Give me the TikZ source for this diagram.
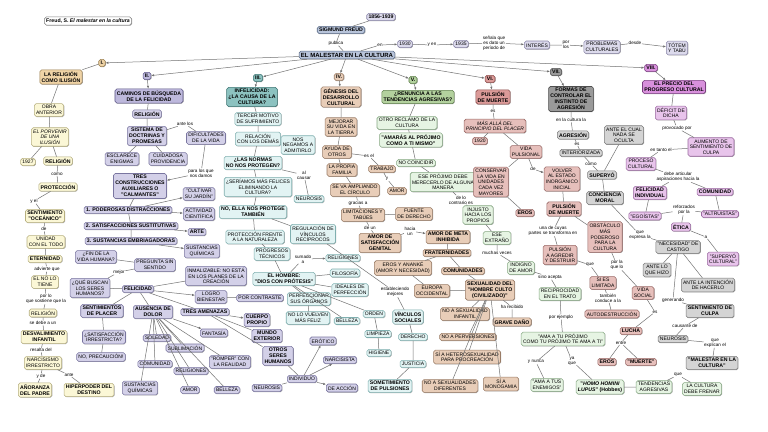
\documentclass[tikz,border=0pt]{standalone}
\usepackage{fontspec}
\setmainfont{Liberation Sans}
\usetikzlibrary{shadows,arrows.meta}
\definecolor{fBG}{HTML}{B8C4DA}\definecolor{dBG}{HTML}{5A6A85}
\definecolor{fLV}{HTML}{DCDAEC}\definecolor{dLV}{HTML}{8A86A8}
\definecolor{fTN}{HTML}{EFD3A6}\definecolor{dTN}{HTML}{9A7F50}
\definecolor{fYL}{HTML}{FBF7D6}\definecolor{dYL}{HTML}{B7B080}
\definecolor{fPU}{HTML}{BDB8DC}\definecolor{dPU}{HTML}{5E5888}
\definecolor{fPL}{HTML}{D3D0E8}\definecolor{dPL}{HTML}{7A76A0}
\definecolor{fTE}{HTML}{8CC2C0}\definecolor{dTE}{HTML}{3D7573}
\definecolor{fCY}{HTML}{E2F3F3}\definecolor{dCY}{HTML}{7FAFAF}
\definecolor{fIV}{HTML}{E8CDB8}\definecolor{dIV}{HTML}{9A7C66}
\definecolor{fGR}{HTML}{B3D19E}\definecolor{dGR}{HTML}{5F7F4C}
\definecolor{fGN}{HTML}{E6F4E3}\definecolor{dGN}{HTML}{86A883}
\definecolor{fPK}{HTML}{DB9A98}\definecolor{dPK}{HTML}{8A4B49}
\definecolor{fPP}{HTML}{E6BFBB}\definecolor{dPP}{HTML}{9A6A67}
\definecolor{fGY}{HTML}{9A9A9A}\definecolor{dGY}{HTML}{4F4F4F}
\definecolor{fGG}{HTML}{D4D4D4}\definecolor{dGG}{HTML}{7C7C7C}
\definecolor{fMG}{HTML}{D890DC}\definecolor{dMG}{HTML}{7A3F80}
\definecolor{fML}{HTML}{E8C4EB}\definecolor{dML}{HTML}{9A6AA0}
\tikzset{
 bx/.style={rounded corners=1.8pt, line width=0.55pt, inner sep=1.8pt, align=center,
   font=\fontsize{5}{5.7}\selectfont, drop shadow={shadow xshift=0.6pt,shadow yshift=-0.6pt,opacity=0.35,fill=black}},
 bf/.style={font=\fontsize{5.2}{5.9}\selectfont\bfseries},
 BG/.style={bx,fill=fBG,draw=dBG}, LV/.style={bx,fill=fLV,draw=dLV},
 TN/.style={bx,fill=fTN,draw=dTN}, YL/.style={bx,fill=fYL,draw=dYL},
 PU/.style={bx,fill=fPU,draw=dPU}, PL/.style={bx,fill=fPL,draw=dPL},
 TE/.style={bx,fill=fTE,draw=dTE}, CY/.style={bx,fill=fCY,draw=dCY},
 IV/.style={bx,fill=fIV,draw=dIV}, GR/.style={bx,fill=fGR,draw=dGR},
 GN/.style={bx,fill=fGN,draw=dGN}, PK/.style={bx,fill=fPK,draw=dPK},
 PP/.style={bx,fill=fPP,draw=dPP}, GY/.style={bx,fill=fGY,draw=dGY},
 GG/.style={bx,fill=fGG,draw=dGG}, MG/.style={bx,fill=fMG,draw=dMG},
 ML/.style={bx,fill=fML,draw=dML}, WT/.style={bx,fill=white,draw=gray},
 lb/.style={font=\fontsize{4.6}{5.1}\selectfont, inner sep=0.4pt, fill=white, align=center},
 ln/.style={draw=black!55, line width=0.5pt},
 ar/.style={ln,-{Latex[length=2.8pt,width=2.3pt]}}
}
\begin{document}
\begin{tikzpicture}[x=1pt,y=-1pt]
\useasboundingbox (0,0) rectangle (768,431);
\fill[white] (0,0) rectangle (768,431);
% ---------- top
\node[WT,bf] (ref) at (88,21) {Freud, S. \textit{El malestar en la cultura}};
\node[LV,bf] (yrs) at (381,17) {1856-1939};
\node[BG,bf] (sf) at (341,30) {SIGMUND FREUD};
\node[lb] (pub) at (336,43) {publica};
\node[BG,bf,font=\fontsize{6}{6.6}\selectfont\bfseries] (mal) at (347,55) {EL MALESTAR EN LA CULTURA};
\node[lb] (en1) at (380,45) {en};
\node[LV] (y30) at (405,44) {1930};
\node[lb] (yen) at (432,45) {y en};
\node[LV] (y35) at (461,44) {1935};
\node[lb] (sen) at (494,43) {señala que\\es dato un\\período de};
\node[LV] (int) at (537,45) {INTERÉS};
\node[lb] (por) at (566,45) {por\\los};
\node[LV] (prob) at (602,47) {PROBLEMAS\\CULTURALES};
\node[lb] (des) at (635,43) {desde};
\node[LV] (tot) at (677,48) {TÓTEM\\Y TABÚ};
\draw[ln] (sf)--(yrs); \draw[ln] (sf)--(pub)--(mal);
\draw[ar] (mal)--(en1)--(y30); \draw[ar] (y30)--(yen)--(y35);
\draw[ar] (y35)--(sen)--(int); \draw[ar] (int)--(por)--(prob); \draw[ar] (prob)--(des)--(tot);
% numerals
\node[TN,bf] (r1) at (102,63) {I.};
\node[PU,bf] (r2) at (147,76) {II.};
\node[TE,bf] (r3) at (258,78) {III.};
\node[IV,bf] (r4) at (339,77) {IV.};
\node[GR,bf] (r5) at (413,80) {V.};
\node[PK,bf] (r6) at (490,79) {VI.};
\node[GY,bf] (r7) at (556,72) {VII.};
\node[MG,bf] (r8) at (651,68) {VIII.};
\foreach \r in {r1,r2,r3,r4,r5,r6,r7,r8} \draw[ar] (mal)--(\r);
% ---------- I
\node[TN,bf] (relI) at (61,77) {LA RELIGIÓN\\COMO ILUSIÓN};
\node[YL] (obra) at (49,110) {OBRA\\ANTERIOR};
\node[YL,font=\fontsize{5}{5.7}\selectfont\itshape] (porv) at (50,137) {EL PORVENIR\\DE UNA\\ILUSIÓN};
\node[YL] (y27) at (28,162) {1927};
\node[YL,bf] (rel1) at (58,161) {RELIGIÓN};
\node[lb] (como) at (57,174) {como};
\node[YL,bf] (prot) at (58,187) {PROTECCIÓN};
\node[lb] (yel) at (34,201) {y el};
\node[YL,bf] (sent) at (45,216) {SENTIMIENTO\\"OCEÁNICO"};
\node[lb] (de1) at (44,229) {de};
\node[YL] (unid) at (46,242) {UNIDAD\\CON EL TODO};
\node[YL,bf] (eter) at (45,259) {ETERNIDAD};
\node[lb] (adv) at (47,269) {advierte que};
\node[YL] (nolo) at (45,282) {EL NO LO\\TIENE};
\node[lb] (porlo) at (46,299) {por lo\\que sostiene que la};
\node[YL] (rel2) at (43,313) {RELIGIÓN};
\node[lb] (sedebe) at (43,323) {se debe a un};
\node[YL,bf] (desv) at (44,337) {DESVALIMIENTO\\INFANTIL};
\node[lb] (resal) at (41,350) {resalta del};
\node[YL] (narc) at (43,363) {NARCISISMO\\IRRESTRICTO};
\node[lb] (yde) at (41,376) {y de};
\node[lb] (ante1) at (69,375) {ante};
\node[YL,bf] (anor) at (35,390) {AÑORANZA\\DEL PADRE};
\node[YL,bf] (hiper) at (89,390) {HIPERPODER DEL\\DESTINO};
\draw[ln] (r1)--(relI)--(obra)--(porv)--(y27); \draw[ln] (porv)--(rel1)--(como)--(prot)--(yel)--(sent)--(de1)--(unid)--(eter)--(adv)--(nolo)--(porlo)--(rel2)--(sedebe)--(desv)--(resal)--(narc)--(yde)--(anor);
\draw[ln] (narc)--(ante1)--(hiper);
% ---------- II
\node[PU,bf] (cam) at (149,96) {CAMINOS DE BÚSQUEDA\\DE LA FELICIDAD};
\node[PL,bf] (relII) at (147,114) {RELIGIÓN};
\node[lb] (antel) at (185,124) {ante los};
\node[PL,bf] (sist) at (147,136) {SISTEMA DE\\DOCTRINAS Y\\PROMESAS};
\node[PL] (dif) at (206,138) {DIFICULTADES\\DE LA VIDA};
\node[PL] (esc) at (122,159) {ESCLARECE\\ENIGMAS};
\node[PL] (cuid) at (168,159) {CUIDADOSA\\PROVIDENCIA};
\node[lb] (para) at (201,173) {para los que\\nos damos};
\node[PL,bf] (tres) at (140,186) {TRES\\CONSTRUCCIONES\\AUXILIARES O\\"CALMANTES"};
\node[PL] (cult) at (199,194) {"CULTIVAR\\SU JARDÍN"};
\node[PL,bf] (pd1) at (128,210) {1. PODEROSAS DISTRACCIONES};
\node[PL] (act) at (199,214) {ACTIVIDAD\\CIENTÍFICA};
\node[PL,bf] (pd2) at (131,226) {2. SATISFACCIONES SUSTITUTIVAS};
\node[PL,bf] (arte) at (197,232) {ARTE};
\node[PL,bf] (pd3) at (131,241) {3. SUSTANCIAS EMBRIAGADORAS};
\node[PL] (susq) at (202,251) {SUSTANCIAS\\QUÍMICAS};
\node[PL] (fin) at (96,257) {¿FIN DE LA\\VIDA HUMANA?};
\node[PL] (preg) at (155,265) {PREGUNTA SIN\\SENTIDO};
\node[lb] (mejor) at (119,272) {mejor};
\node[PL] (inmal) at (216,276) {INMALIZABLE: NO ESTÁ\\EN LOS PLANES DE LA\\CREACIÓN};
\node[PL] (que) at (90,288) {¿QUÉ BUSCAN\\LOS SERES\\HUMANOS?};
\node[PL,bf] (fel) at (138,289) {FELICIDAD};
\node[PL] (logro) at (211,297) {LOGRO\\BIENESTAR};
\node[PL] (porc) at (260,298) {POR CONTRASTE};
\node[PL,bf] (sentp) at (102,311) {SENTIMIENTOS\\DE PLACER};
\node[PL,bf] (aus) at (153,312) {AUSENCIA DE\\DOLOR};
\node[PL,bf] (tram) at (205,312) {TRES AMENAZAS};
\node[PL,bf] (cuer) at (257,320) {CUERPO\\PROPIO};
\node[PL] (satis) at (104,337) {¿SATISFACCIÓN\\IRRESTRICTA?};
\node[PL] (fant) at (214,333) {FANTASÍA};
\node[PL,bf] (mund) at (267,336) {MUNDO\\EXTERIOR};
\node[PL] (sol) at (157,338) {SOLEDAD};
\node[PL] (sub) at (185,348) {SUBLIMACIÓN};
\node[PL] (noprec) at (101,357) {NO, PRECAUCIÓN!};
\node[PL] (romp) at (230,362) {"ROMPER" CON\\LA REALIDAD};
\node[PL,bf] (otros) at (278,356) {OTROS\\SERES\\HUMANOS};
\node[PL] (comu) at (155,364) {COMUNIDAD};
\node[PL] (relg) at (191,371) {RELIGIONES};
\node[PL] (susq2) at (140,388) {SUSTANCIAS\\QUÍMICAS};
\node[PL] (amor2) at (190,390) {AMOR};
\node[PL] (bel2) at (227,390) {BELLEZA};
\node[PL] (neur2) at (267,388) {NEUROSIS};
\node[PL] (indiv) at (302,379) {INDIVIDUO};
\node[PL] (erot) at (323,341) {ERÓTICO};
\node[PL] (narci) at (340,360) {NARCISISTA};
\node[PL] (acc) at (342,388) {DE ACCIÓN};
\draw[ar] (r2)--(cam); \draw[ln] (cam)--(relII)--(sist)--(esc); \draw[ln] (sist)--(cuid);
\draw[ln] (sist)--(antel)--(dif)--(para); \draw[ar] (para)--(tres);
\draw[ln] (tres)--(pd1); \draw[ln] (pd1)--(pd2)--(pd3);
\draw[ar] (pd1)--(cult); \draw[ar] (pd1)--(act); \draw[ar] (pd2)--(arte); \draw[ar] (pd3)--(susq);
\draw[ln] (fin)--(preg)--(mejor)--(que)--(fel)--(inmal);
\draw[ar] (fel)--(logro); \draw[ln] (logro)--(porc);
\draw[ln] (fel)--(sentp)--(satis)--(noprec); \draw[ln] (fel)--(aus); \draw[ln] (fel)--(tram);
\draw[ar] (tram)--(cuer); \draw[ln] (tram)--(mund); \draw[ln] (tram)--(otros);
\foreach \t in {sol,sub,comu,relg,susq2,amor2,bel2,romp} \draw[ln] (aus)--(\t);
\draw[ar] (aus)--(fant);
\draw[ln] (otros)--(indiv)--(neur2); \draw[ar] (indiv)--(erot); \draw[ar] (indiv)--(narci); \draw[ar] (indiv)--(acc);
% ---------- III
\node[TE,bf] (inf) at (252,97) {INFELICIDAD:\\¿LA CAUSA DE LA\\CULTURA?};
\node[CY] (terc) at (258,119) {TERCER MOTIVO\\DE SUFRIMIENTO};
\node[CY] (relac) at (258,139) {RELACIÓN\\CON LOS DEMÁS};
\node[CY] (nos) at (298,145) {NOS\\NEGAMOS A\\ADMITIRLO};
\node[CY,bf] (lasn) at (253,163) {¿LAS NORMAS\\NO NOS PROTEGEN?};
\node[lb] (alc) at (304,175) {al\\causar};
\node[CY] (seria) at (258,187) {¿SERÍAMOS MÁS FELICES\\ELIMINANDO LA\\CULTURA?};
\node[CY] (neur3) at (309,199) {NEUROSIS};
\node[CY,bf] (noella) at (253,212) {NO, ELLA NOS PROTEGE\\TAMBIÉN};
\node[CY] (prot3) at (255,237) {PROTECCIÓN FRENTE\\A LA NATURALEZA};
\node[CY] (regul) at (313,234) {REGULACIÓN DE\\VÍNCULOS\\RECÍPROCOS};
\node[CY] (prog) at (272,254) {PROGRESOS\\TÉCNICOS};
\node[lb] (suma) at (303,259) {sumado\\a};
\node[CY] (relg3) at (343,258) {RELIGIONES};
\node[CY] (filo) at (345,273) {FILOSOFÍA};
\node[CY,bf] (hom) at (284,279) {EL HOMBRE:\\"DIOS CON PRÓTESIS"};
\node[CY] (ideal) at (350,290) {IDEALES DE\\PERFECCIÓN};
\node[CY] (perf) at (309,299) {PERFECCIONAR\\SUS ÓRGANOS};
\node[CY] (novu) at (308,318) {NO LO VUELVEN\\MÁS FELIZ};
\node[CY] (bel3) at (347,321) {BELLEZA};
\node[CY] (orden) at (374,314) {ORDEN};
\node[lb] (estab) at (395,292) {estableciendo\\mejores};
\node[CY,bf] (vinc) at (408,317) {VÍNCULOS\\SOCIALES};
\node[CY] (limp) at (378,334) {LIMPIEZA};
\node[CY] (dere) at (413,337) {DERECHO};
\node[CY] (hig) at (379,353) {HIGIENE};
\node[CY] (just) at (413,364) {JUSTICIA};
\node[CY,bf] (somet) at (390,386) {SOMETIMIENTO\\DE PULSIONES};
\draw[ar] (r3)--(inf); \draw[ln] (inf)--(terc)--(relac)--(nos);
\draw[ln] (relac)--(lasn)--(alc)--(neur3); \draw[ln] (lasn)--(seria)--(noella)--(prot3)--(prog)--(hom);
\draw[ln] (noella)--(regul); \draw[ar] (hom)--(suma)--(relg3); \draw[ln] (hom)--(filo); \draw[ln] (hom)--(ideal);
\draw[ln] (hom)--(perf)--(novu); \draw[ln] (hom)--(bel3); \draw[ln] (regul)--(estab)--(vinc);
\draw[ln] (hom)--(orden)--(limp)--(hig); \draw[ln] (vinc)--(dere)--(just)--(somet);
% ---------- IV
\node[IV,bf] (gen) at (341,97) {GÉNESIS DEL\\DESARROLLO\\CULTURAL};
\node[IV] (mej) at (341,127) {MEJORAR\\SU VIDA EN\\LA TIERRA};
\node[IV] (ayu) at (337,152) {AYUDA DE\\OTROS};
\node[lb] (esel) at (369,156) {es el};
\node[IV] (fam) at (342,170) {LA PROPIA\\FAMILIA};
\node[IV] (trab) at (382,169) {TRABAJO};
\node[lb] (y4) at (387,179) {y};
\node[IV] (circ) at (355,190) {SE VA AMPLIANDO\\EL CÍRCULO};
\node[IV] (amor4) at (397,191) {AMOR};
\node[lb] (grac) at (358,203) {gracias a};
\node[IV] (limit) at (363,215) {LIMITACIONES Y\\TABÚES};
\node[IV] (fuen) at (414,214) {FUENTE\\DE DERECHO};
\node[lb] (deun) at (370,228) {de un};
\node[IV,bf] (amsat) at (380,243) {AMOR DE\\SATISFACCIÓN\\GENITAL};
\node[lb] (hacia) at (410,231) {hacia\\un};
\node[IV,bf] (ammeta) at (448,237) {AMOR DE META\\INHIBIDA};
\node[IV,bf] (frat) at (447,253) {FRATERNIDADES};
\node[IV] (eros4) at (403,268) {EROS Y ANANKÉ\\(AMOR Y NECESIDAD)};
\node[IV,bf] (comun4) at (463,271) {COMUNIDADES};
\node[IV] (euro) at (432,291) {EUROPA\\OCCIDENTAL};
\node[IV,bf] (sexu) at (490,290) {SEXUALIDAD DEL\\"HOMBRE CULTO\\(CIVILIZADO)"};
\node[lb] (harec) at (512,307) {ha recibido};
\node[IV,bf] (grave) at (512,322) {GRAVE DAÑO};
\node[IV] (noinf) at (465,314) {NO A SEXUALIDAD\\INFANTIL};
\node[IV] (noper) at (468,337) {NO A PERVERSIONES};
\node[IV] (sihet) at (467,357) {SÍ A HETEROSEXUALIDAD\\PARA PROCREACIÓN};
\node[IV] (nodif) at (450,386) {NO A SEXUALIDADES\\DIFERENTES};
\node[IV] (simon) at (501,384) {SÍ A\\MONOGAMIA};
\draw[ar] (r4)--(gen); \draw[ln] (gen)--(mej)--(ayu)--(fam)--(circ)--(grac)--(limit)--(fuen);
\draw[ln] (ayu)--(esel)--(trab)--(y4)--(amor4); \draw[ln] (limit)--(deun)--(amsat); \draw[ar] (amsat)--(hacia)--(ammeta);
\draw[ln] (ammeta)--(frat)--(comun4); \draw[ln] (frat)--(eros4); \draw[ln] (eros4)--(euro); \draw[ln] (comun4)--(sexu);
\draw[ln] (euro)--(sexu); \draw[ln] (sexu)--(harec)--(grave);
\foreach \t in {noinf,noper,sihet,nodif,simon} \draw[ln] (sexu)--(\t);
% ---------- V
\node[GR,bf] (ren) at (418,97) {¿RENUNCIA A LAS\\TENDENCIAS AGRESIVAS?};
\node[GN] (otro) at (407,123) {OTRO RECLAMO DE LA\\CULTURA};
\node[GN,bf] (amar) at (411,140) {"AMARÁS AL PRÓJIMO\\COMO A TI MISMO"};
\node[GN] (nocoi) at (416,163) {NO COINCIDIR};
\node[GN] (esep) at (443,182) {ESE PRÓJIMO DEBE\\MERECERLO DE ALGUNA\\MANERA};
\node[lb] (delo) at (461,200) {de lo\\contrario es};
\node[GN] (inju) at (478,215) {INJUSTO\\HACIA LOS\\PROPIOS};
\node[GN] (extr) at (497,238) {ESE\\EXTRAÑO};
\node[lb] (much) at (497,253) {muchas veces};
\node[GN] (indig) at (521,268) {INDIGNO\\DE AMOR};
\node[lb] (sino) at (550,277) {sino acepta};
\node[GN] (recip) at (560,294) {RECIPROCIDAD\\EN EL TRATO};
\node[lb] (porej) at (561,317) {por ejemplo};
\node[GN] (amatu) at (563,339) {"AMA A TU PRÓJIMO\\COMO TU PRÓJIMO TE AMA A TI"};
\node[lb] (ynun) at (536,362) {y nunca};
\node[lb] (yaque) at (572,361) {ya\\que};
\node[GN] (enem) at (547,385) {"AMA A TUS\\ENEMIGOS"};
\node[GN,bf] (homo) at (600,387) {"\textit{HOMO HOMINI}\\\textit{LUPUS}" (Hobbes)};
\node[GN] (tend) at (654,387) {TENDENCIAS\\AGRESIVAS};
\node[lb] (que5) at (678,375) {que};
\node[GN] (fren) at (702,389) {LA CULTURA\\DEBE FRENAR};
\draw[ar] (r5)--(ren); \draw[ln] (ren)--(otro)--(amar)--(nocoi)--(esep)--(delo)--(inju)--(extr)--(much)--(indig)--(sino)--(recip)--(porej)--(amatu)--(ynun)--(enem);
\draw[ln] (amatu)--(yaque)--(homo)--(tend)--(que5)--(fren);
% ---------- VI
\node[PK,bf] (pul) at (493,97) {PULSIÓN\\DE MUERTE};
\node[lb] (es6) at (493,111) {es};
\node[PP,font=\fontsize{5}{5.7}\selectfont\itshape] (mas) at (495,126) {MÁS ALLÁ DEL\\PRINCIPIO DEL PLACER};
\node[PP] (y20) at (480,141) {1920};
\node[PP] (vida) at (526,152) {VIDA\\PULSIONAL};
\node[PP] (cons) at (491,182) {CONSERVAR\\LA VIDA EN\\UNIDADES\\CADA VEZ\\MAYORES};
\node[lb] (de6) at (533,169) {de};
\node[PP] (volv) at (562,179) {VOLVER\\AL ESTADO\\INORGÁNICO\\INICIAL};
\node[PP,bf] (eros6) at (525,213) {EROS};
\node[PP,bf] (pdm) at (564,209) {PULSIÓN\\DE MUERTE};
\node[lb] (unade) at (553,231) {una de cuyas\\partes se transforma en};
\node[PP] (pad) at (560,255) {PULSIÓN\\A AGREDIR\\Y DESTRUIR};
\node[lb] (que6) at (590,265) {que};
\node[PP] (silim) at (603,283) {SI ES\\LIMITADA};
\node[lb] (tamb) at (608,298) {también\\conduce a la};
\node[PP] (auto) at (612,314) {AUTODESTRUCCIÓN};
\node[PP] (obst) at (605,237) {OBSTÁCULO\\MÁS\\PODEROSO\\PARA LA\\CULTURA};
\node[lb] (porla) at (617,265) {por la\\que lo};
\node[PP] (vsoc) at (643,293) {VIDA\\SOCIAL};
\node[lb] (es6b) at (655,312) {es};
\node[PP,bf] (luch) at (631,331) {LUCHA};
\node[lb] (entre) at (621,343) {entre};
\node[PP,bf] (eros7) at (607,362) {EROS};
\node[PP,bf] (muer) at (641,362) {"MUERTE"};
\draw[ar] (r6)--(pul); \draw[ln] (pul)--(es6)--(mas)--(y20); \draw[ln] (mas)--(vida)--(cons)--(eros6);
\draw[ar] (vida)--(de6)--(volv); \draw[ln] (volv)--(pdm)--(unade)--(pad)--(que6)--(silim)--(tamb)--(auto);
\draw[ln] (pdm)--(obst)--(porla)--(vsoc)--(es6b)--(luch)--(entre)--(eros7); \draw[ln] (entre)--(muer);
% ---------- VII
\node[GY,bf] (form) at (571,99) {FORMAS DE\\CONTROLAR EL\\INSTINTO DE\\AGRESIÓN};
\node[lb] (enla) at (571,120) {en la cultura la};
\node[GG,bf] (agr) at (573,135) {AGRESIÓN};
\node[GG] (antec) at (624,135) {ANTE EL CUAL\\NADA SE\\OCULTA};
\node[lb] (es7) at (577,144) {es};
\node[GG] (inter) at (581,153) {INTERIORIZADA};
\node[lb] (como7) at (591,164) {como};
\node[GG,bf] (sup) at (602,175) {SUPERYÓ};
\node[GG,bf] (conc) at (605,198) {CONCIENCIA\\MORAL};
\node[lb] (qexp) at (640,235) {que\\expresa la};
\node[GG] (nec) at (678,247) {"NECESIDAD" DE\\CASTIGO};
\node[GG] (antelo) at (657,270) {ANTE LO\\QUE HIZO};
\node[GG] (antei) at (708,285) {ANTE LA INTENCIÓN\\DE HACERLO};
\node[lb] (gene) at (673,300) {generando};
\node[GG,bf] (culpa) at (710,311) {SENTIMIENTO DE\\CULPA};
\node[lb] (caus) at (685,326) {causante de};
\node[GG] (neur7) at (673,339) {NEUROSIS};
\node[lb] (qexpl) at (715,343) {que\\explican el};
\node[GG,bf] (malc) at (712,363) {"MALESTAR EN LA\\CULTURA"};
\draw[ar] (r7)--(form); \draw[ln] (form)--(enla)--(agr)--(es7)--(inter)--(como7)--(sup)--(conc)--(qexp)--(nec)--(antelo);
\draw[ln] (sup)--(antec); \draw[ln] (nec)--(antei); \draw[ln] (nec)--(gene)--(culpa)--(caus)--(neur7)--(qexpl)--(malc);
% ---------- VIII
\node[MG,bf] (prec) at (674,87) {EL PRECIO DEL\\PROGRESO CULTURAL};
\node[ML] (defi) at (671,113) {DÉFICIT DE\\DICHA};
\node[lb] (provo) at (677,128) {provocado por};
\node[ML] (aume) at (711,147) {AUMENTO DE\\SENTIMIENTO DE\\CULPA};
\node[lb] (entan) at (661,150) {en tanto el};
\node[ML] (proc) at (641,164) {PROCESO\\CULTURAL};
\node[lb] (debe) at (678,177) {debe articular\\aspiraciones hacia la};
\node[ML,bf] (felind) at (650,193) {FELICIDAD\\INDIVIDUAL};
\node[ML,bf] (comu8) at (715,192) {COMUNIDAD};
\node[ML] (ego) at (645,216) {"EGOÍSTAS"};
\node[lb] (refo) at (684,210) {reforzados\\por la};
\node[ML] (alt) at (720,214) {"ALTRUISTAS"};
\node[ML,bf] (etic) at (681,227) {ÉTICA};
\node[lb] (a8) at (706,237) {a};
\node[ML] (supc) at (723,259) {"SUPERYÓ\\CULTURAL"};
\draw[ar] (r8)--(prec); \draw[ln] (prec)--(defi)--(provo)--(aume)--(entan)--(proc)--(debe)--(felind)--(ego);
\draw[ln] (debe)--(comu8)--(alt); \draw[ln] (ego)--(refo)--(etic)--(a8)--(supc); \draw[ln] (alt)--(refo);
\end{tikzpicture}
\end{document}
